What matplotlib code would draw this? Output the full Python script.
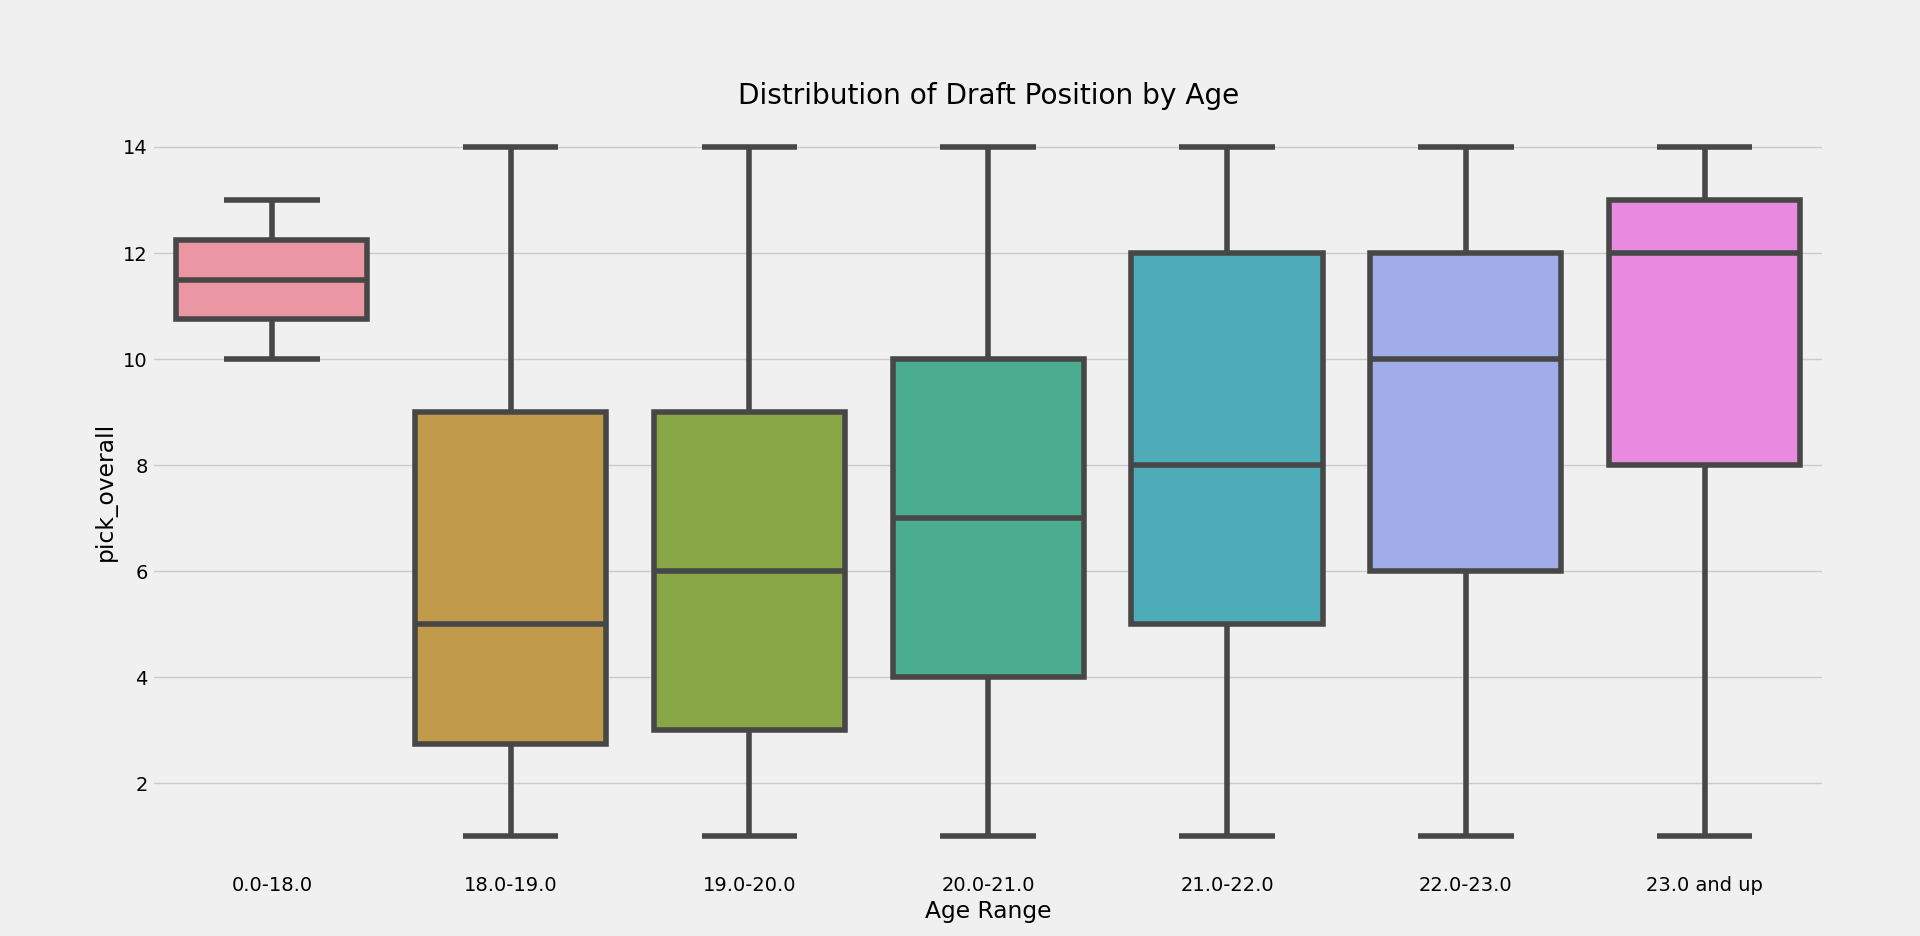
import colorsys
import matplotlib
matplotlib.use("Agg")
from matplotlib import pyplot as plt
import matplotlib.colors as mcolors
import seaborn as sns

plt.style.use("fivethirtyeight")

age_ranges = ["0.0-18.0", "18.0-19.0", "19.0-20.0", "20.0-21.0",
              "21.0-22.0", "22.0-23.0", "23.0 and up"]
whisker_low = [10, 1, 1, 1, 1, 1, 1]
q1 = [10.75, 2.75, 3, 4, 5, 6, 8]
median = [11.5, 5, 6, 7, 8, 10, 12]
q3 = [12.25, 9, 9, 10, 12, 12, 13]
whisker_high = [13, 14, 14, 14, 14, 14, 14]

# seaborn-style colours: husl palette, desaturated
colors = [sns.desaturate(c, 0.75) for c in sns.husl_palette(len(age_ranges), l=.7)]
lum = min(colorsys.rgb_to_hls(*c)[1] for c in colors) * .6
gray = mcolors.rgb2hex((lum, lum, lum))

stats = []
for i, name in enumerate(age_ranges):
    stats.append(dict(label=name, whislo=whisker_low[i], q1=q1[i], med=median[i],
                      q3=q3[i], whishi=whisker_high[i], fliers=[]))

fig = plt.figure(figsize=(19.2, 9.36), dpi=100)
ax = fig.add_axes([0.0794, 0.0696, 0.8706, 0.8102])

lw = 4
bp = ax.bxp(stats, positions=range(len(age_ranges)), widths=0.8, patch_artist=True,
            showfliers=False,
            boxprops=dict(linewidth=lw, edgecolor=gray),
            medianprops=dict(linewidth=lw, color=gray),
            whiskerprops=dict(linewidth=lw, color=gray),
            capprops=dict(linewidth=lw, color=gray),
            capwidths=0.4)
for box, c in zip(bp["boxes"], colors):
    box.set_facecolor(c)

ax.set_xlim(-0.5, len(age_ranges) - 0.5)
ax.set_ylim(0.35, 14.65)
ax.set_yticks([2, 4, 6, 8, 10, 12, 14])
ax.xaxis.grid(False)
ax.set_axisbelow(True)
ax.set_xlabel("Age Range")
ax.set_ylabel("pick_overall")
ax.set_title("Distribution of Draft Position by Age")

fig.savefig("out.png", dpi=100, facecolor=fig.get_facecolor())
